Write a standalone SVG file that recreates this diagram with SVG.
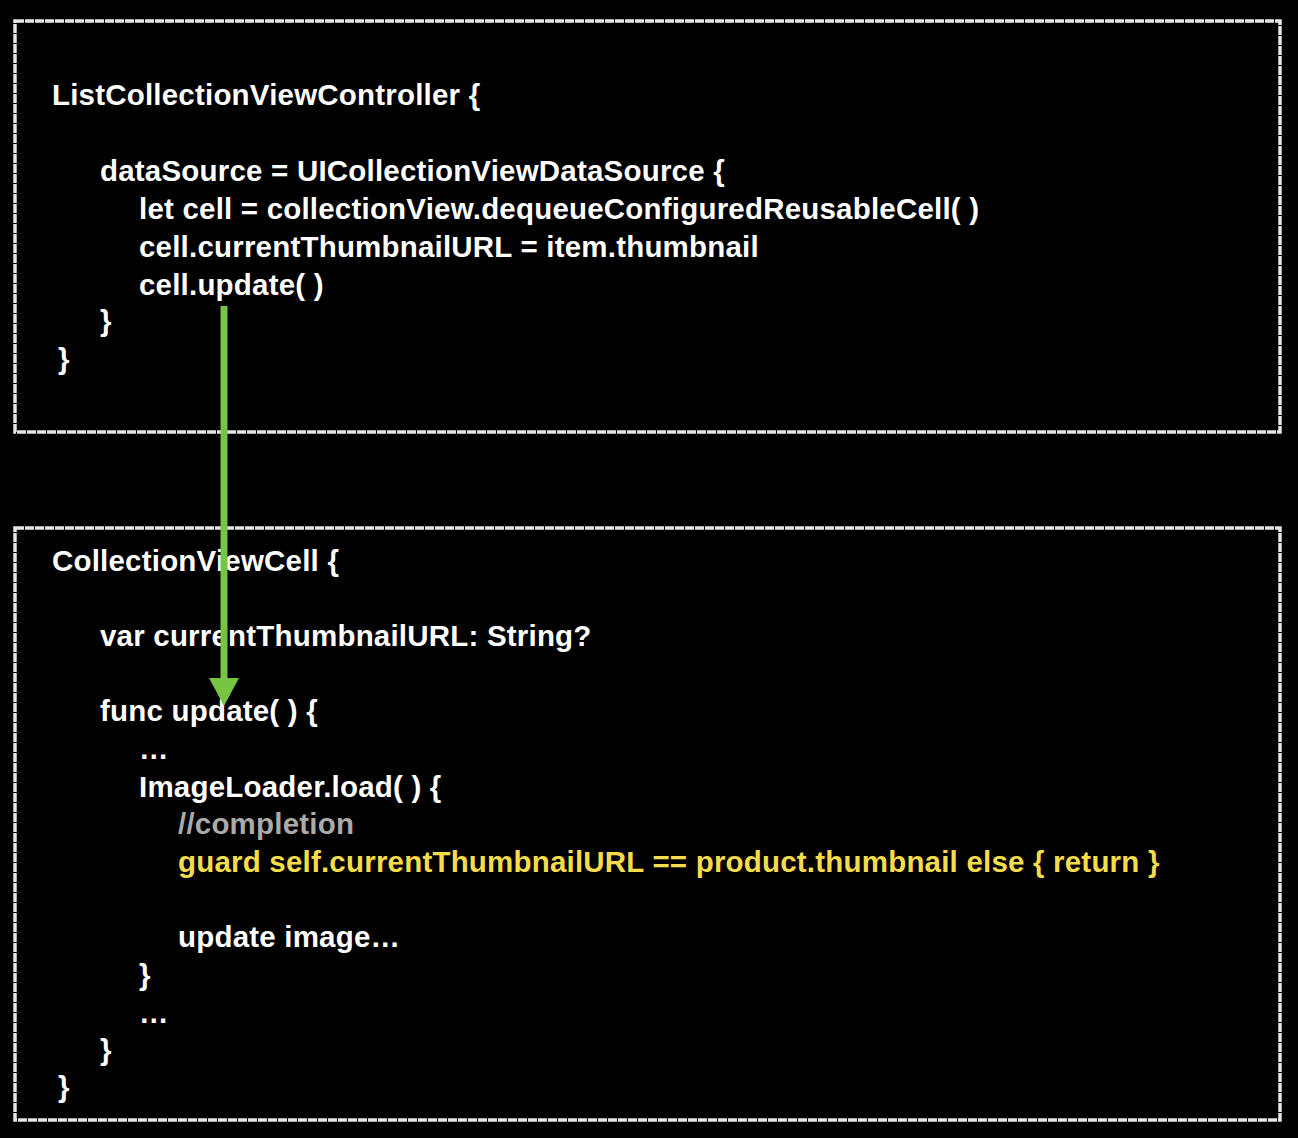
<svg xmlns="http://www.w3.org/2000/svg" width="1298" height="1138" viewBox="0 0 1298 1138">
<style>
text{font-family:"Liberation Sans",Arial,sans-serif;font-size:29.5px;font-weight:bold;fill:#fff;letter-spacing:0.2px}
.box{fill:#000;stroke:#e6e6e6;stroke-width:3.5;stroke-dasharray:9 1}
.c{fill:#aaa}.y{fill:#f5dc4a}
</style>
<rect width="1298" height="1138" fill="#000"/>
<g id="controller">
<rect class="box" x="15" y="21" width="1265" height="411"/>
<text x="52" y="105">ListCollectionViewController {</text>
<text x="100" y="181">dataSource = UICollectionViewDataSource {</text>
<text x="139" y="219">let cell = collectionView.dequeueConfiguredReusableCell( )</text>
<text x="139" y="257">cell.currentThumbnailURL = item.thumbnail</text>
<text x="139" y="295">cell.update( )</text>
<text x="100" y="331">}</text>
<text x="58" y="369">}</text>
</g>
<g id="cell">
<rect class="box" x="15" y="528" width="1265" height="592"/>
<text x="52" y="571">CollectionViewCell {</text>
<text x="100" y="646">var currentThumbnailURL: String?</text>
<text x="100" y="721">func update( ) {</text>
<text x="139" y="759">…</text>
<text x="139" y="797">ImageLoader.load( ) {</text>
<text class="c" x="178" y="834">//completion</text>
<text class="y" x="178" y="872">guard self.currentThumbnailURL == product.thumbnail else { return }</text>
<text x="178" y="947">update image…</text>
<text x="139" y="985">}</text>
<text x="139" y="1023">…</text>
<text x="100" y="1060">}</text>
<text x="58" y="1097">}</text>
</g>
<g id="connectors">
<line x1="224" y1="306" x2="224" y2="680" stroke="#76c442" stroke-width="7"/>
<polygon points="209,678 239,678 224,706" fill="#76c442"/>
</g>
</svg>
